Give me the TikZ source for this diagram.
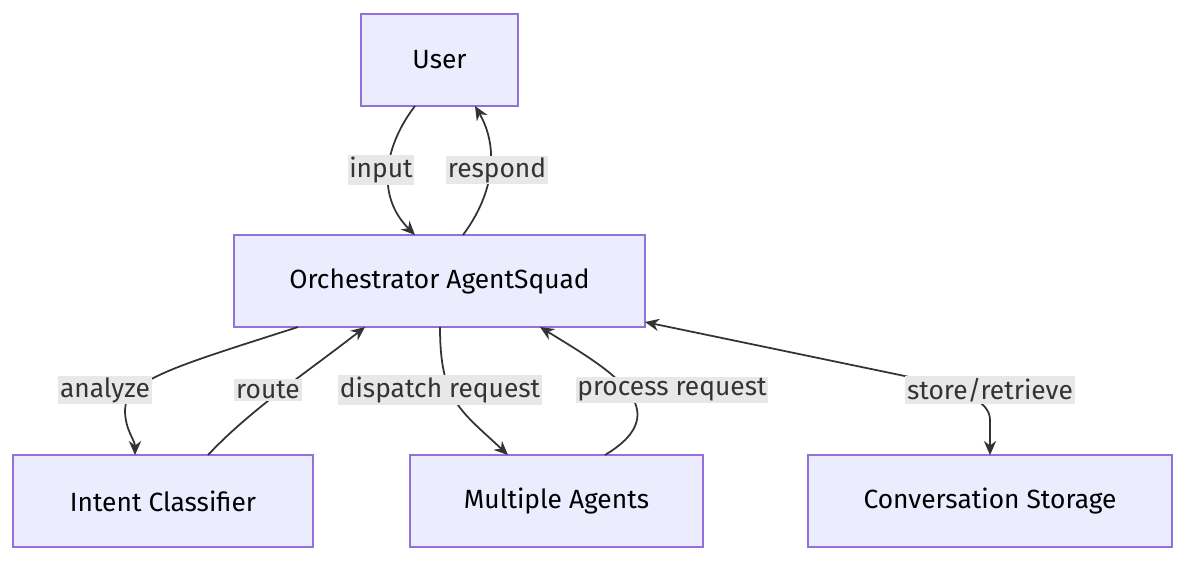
\documentclass[tikz,border=0pt]{standalone}
\usepackage{fontspec}
\setmainfont{Fira Sans}
\usetikzlibrary{arrows.meta}
\definecolor{boxfill}{HTML}{ECECFF}
\definecolor{boxline}{HTML}{9370DB}
\definecolor{lblfill}{HTML}{E8E8E8}
\definecolor{ink}{HTML}{333333}
\tikzset{
  box/.style={draw=boxline, fill=boxfill, line width=0.9pt, minimum height=1.84cm, font=\fontsize{15}{18}\selectfont, text=black},
  lbl/.style={fill=lblfill, inner sep=1pt, font=\fontsize{15}{18}\selectfont, text=ink},
  flow/.style={draw=ink, line width=1pt, -{Stealth[length=8pt,width=7pt]}}
}
\begin{document}
\begin{tikzpicture}[x=0.02cm, y=-0.02cm]
\useasboundingbox (0,0) rectangle (1200,568);
\node[box, minimum width=3.14cm] (user)  at (439.5,60)  {User};
\node[box, minimum width=8.22cm] (orch)  at (439.5,281) {Orchestrator AgentSquad};
\node[box, minimum width=6.00cm] (intent) at (163,501)  {Intent Classifier};
\node[box, minimum width=5.86cm] (agents) at (556.5,501) {Multiple Agents};
\node[box, minimum width=7.28cm] (store)  at (990,501)  {Conversation Storage};

% named free ends on the box borders
\coordinate (uIn)   at (415,106);
\coordinate (oIn)   at (415,235);
\coordinate (oOut)  at (463,235);
\coordinate (uOut)  at (475,106);
\coordinate (oA)    at (298,327);
\coordinate (iA)    at (135,455);
\coordinate (iR)    at (208,455);
\coordinate (oR)    at (365,327);
\coordinate (oD)    at (440,327);
\coordinate (mD)    at (508,455);
\coordinate (mP)    at (605,455);
\coordinate (oP)    at (540,327);
\coordinate (oS)    at (645,322);
\coordinate (sS)    at (990,455);

\draw[flow] (uIn) .. controls (385,145) and (375,195) .. (oIn);
\draw[flow] (oOut) .. controls (500,185) and (495,140) .. (uOut);
\draw[flow] (oA) .. controls (180,365) and (125,380) .. (125,410) .. controls (125,430) and (135,440) .. (iA);
\draw[flow] (iR) .. controls (250,410) and (310,370) .. (oR);
\draw[flow] (oD) .. controls (440,400) and (460,410) .. (mD);
\draw[flow] (mP) .. controls (680,410) and (610,370) .. (oP);
\draw[flow, {Stealth[length=8pt,width=7pt]}-{Stealth[length=8pt,width=7pt]}] (oS) -- (900,375) .. controls (960,388) and (990,400) .. (990,420) -- (sS);

\node[lbl] (lInput)   at (381,170) {input};
\node[lbl] (lRespond) at (497,170) {respond};
\node[lbl] (lAnalyze) at (105,390) {analyze};
\node[lbl] (lRoute)   at (268,390) {route};
\node[lbl] (lDisp)    at (440,390) {dispatch request};
\node[lbl] (lProc)    at (672,390) {process request};
\node[lbl] (lStore)   at (990,390) {store/retrieve};
\end{tikzpicture}
\end{document}
